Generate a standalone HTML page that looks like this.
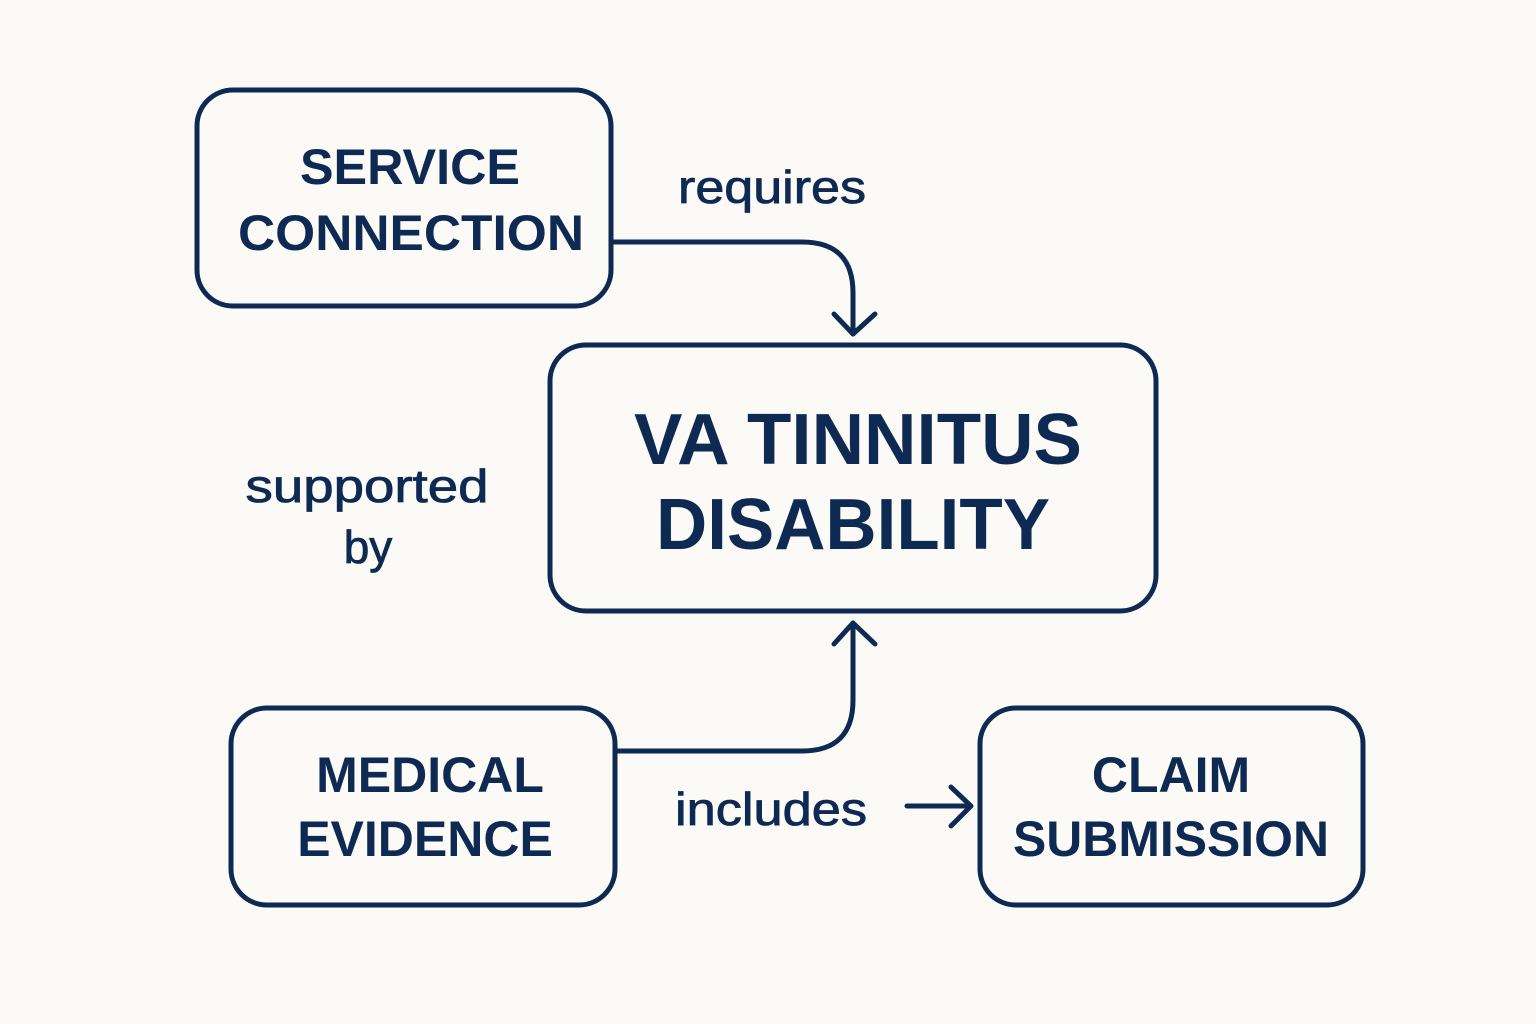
<!DOCTYPE html>
<html><head><style>
html,body{margin:0;padding:0;background:#fbfaf7;}
svg{display:block;}
text{font-family:"Liberation Sans",sans-serif;fill:#0f2a52;}
</style></head><body>
<svg width="1536" height="1024" viewBox="0 0 1536 1024">
<rect width="1536" height="1024" fill="#fbfaf7"/>
<g fill="none" stroke="#0f2a52" stroke-width="5" stroke-linecap="round" stroke-linejoin="round">
<rect x="197" y="90" width="414" height="216" rx="36"/>
<rect x="550" y="345" width="606" height="266" rx="36"/>
<rect x="231" y="708" width="384" height="197" rx="36"/>
<rect x="980" y="708" width="383" height="197" rx="36"/>
<path d="M612 242 H802 Q853 242 853 293 V334"/>
<path d="M834 314 L853 334 L875 314"/>
<path d="M616 751 H802 Q853 751 853 700 V623"/>
<path d="M834 644 L853 623 L875 644"/>
<path d="M907 806 H970"/>
<path d="M951 787 L971 806 L951 826"/>
</g>
<g font-weight="bold" text-anchor="middle" lengthAdjust="spacingAndGlyphs">
<text x="410" y="184" font-size="50" textLength="220" lengthAdjust="spacingAndGlyphs">SERVICE</text>
<text x="411" y="250" font-size="50" textLength="346" lengthAdjust="spacingAndGlyphs">CONNECTION</text>
<text x="858" y="464" font-size="72" textLength="448" lengthAdjust="spacingAndGlyphs">VA TINNITUS</text>
<text x="853" y="549" font-size="72" textLength="394" lengthAdjust="spacingAndGlyphs">DISABILITY</text>
<text x="430" y="792" font-size="50">MEDICAL</text>
<text x="425" y="856" font-size="50">EVIDENCE</text>
<text x="1171" y="792" font-size="50">CLAIM</text>
<text x="1171" y="856" font-size="50" textLength="316" lengthAdjust="spacingAndGlyphs">SUBMISSION</text>
</g>
<g text-anchor="middle" font-size="46" stroke="#0f2a52" stroke-width="0.8">
<text x="772" y="203" textLength="188" lengthAdjust="spacingAndGlyphs">requires</text>
<text x="367" y="502" textLength="243" lengthAdjust="spacingAndGlyphs">supported</text>
<text x="368" y="563">by</text>
<text x="771" y="825" textLength="192" lengthAdjust="spacingAndGlyphs">includes</text>
</g>
</svg>
</body></html>
